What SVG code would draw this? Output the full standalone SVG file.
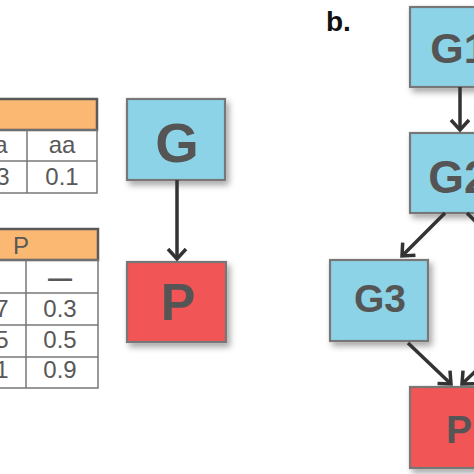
<svg xmlns="http://www.w3.org/2000/svg" width="474" height="474" viewBox="0 0 474 474">
<style>
.blue{fill:#8dd3e7;stroke:#777;stroke-width:2.2}
.red{fill:#f25555;stroke:#777;stroke-width:2.2}
.lbl{font-family:"Liberation Sans",Arial,sans-serif;font-weight:bold;fill:#555;text-anchor:middle}
.cell{font-family:"Liberation Sans",Arial,sans-serif;font-size:24px;fill:#585858;text-anchor:middle}
.hdr{fill:#fbb872;stroke:#5a5a5a;stroke-width:2.5}
.grid{fill:none;stroke:#777;stroke-width:1.5}
.conn{fill:none;stroke:#333;stroke-width:3.5;marker-end:url(#arr)}
</style>
<defs>
<filter id="sh" x="-20%" y="-20%" width="150%" height="150%">
<feDropShadow dx="3" dy="4" stdDeviation="3" flood-color="#000" flood-opacity="0.35"/>
</filter>
<marker id="arr" markerUnits="userSpaceOnUse" markerWidth="24" markerHeight="24" viewBox="-12 -12 24 24" refX="0" refY="0" orient="auto">
<path d="M-10,-9 L0,0 L-10,9" fill="none" stroke="#333" stroke-width="3.5"/>
</marker>
</defs>
<rect width="474" height="474" fill="#fff"/>

<g id="table1">
<rect class="hdr" x="-5" y="99" width="102" height="31"/>
<rect class="grid" x="-5" y="130" width="102" height="63"/>
<line class="grid" x1="-5" y1="161" x2="97" y2="161"/>
<line class="grid" x1="27" y1="130" x2="27" y2="193"/>
<text class="cell" x="1" y="153">a</text>
<text class="cell" x="62" y="153">aa</text>
<text class="cell" x="3" y="185">3</text>
<text class="cell" x="62" y="185">0.1</text>
</g>

<g id="table2">
<rect class="hdr" x="-5" y="229" width="103" height="31"/>
<text class="cell" x="21" y="254">P</text>
<rect class="grid" x="-5" y="260" width="103" height="128"/>
<line class="grid" x1="-5" y1="293" x2="98" y2="293"/>
<line class="grid" x1="-5" y1="325" x2="98" y2="325"/>
<line class="grid" x1="-5" y1="357" x2="98" y2="357"/>
<line class="grid" x1="26" y1="260" x2="26" y2="388"/>
<text class="cell" x="60" y="286" font-weight="bold">—</text>
<text class="cell" x="2" y="317">7</text>
<text class="cell" x="60" y="317">0.3</text>
<text class="cell" x="2" y="348">5</text>
<text class="cell" x="60" y="348">0.5</text>
<text class="cell" x="2" y="378">1</text>
<text class="cell" x="60" y="378">0.9</text>
</g>

<g id="a-G">
<rect class="blue" x="127" y="99" width="98" height="81" filter="url(#sh)"/>
<text class="lbl" x="177" y="162" font-size="56">G</text>
</g>
<g id="a-P">
<rect class="red" x="127" y="262" width="99" height="80" filter="url(#sh)"/>
<text class="lbl" x="178" y="320" font-size="52">P</text>
</g>

<text x="326" y="31" font-family="Liberation Sans,Arial,sans-serif" font-weight="bold" font-size="28" fill="#111">b.</text>

<g id="b-G1">
<rect class="blue" x="410" y="7" width="98" height="80" filter="url(#sh)"/>
<text class="lbl" x="459" y="63" font-size="43">G1</text>
</g>
<g id="b-G2">
<rect class="blue" x="410" y="133" width="98" height="80" filter="url(#sh)"/>
<text class="lbl" x="459" y="193" font-size="46">G2</text>
</g>
<g id="b-G3">
<rect class="blue" x="330" y="260" width="98" height="81" filter="url(#sh)"/>
<text class="lbl" x="380" y="312" font-size="39">G3</text>
</g>
<g id="b-P">
<rect class="red" x="410" y="387" width="98" height="81" filter="url(#sh)"/>
<text class="lbl" x="459" y="443" font-size="39">P</text>
</g>

<g id="connectors">
<line class="conn" x1="177" y1="180" x2="177" y2="259"/>
<line class="conn" x1="460" y1="87" x2="460" y2="130"/>
<line class="conn" x1="445" y1="213" x2="402" y2="256"/>
<line x1="467" y1="213" x2="520" y2="266" stroke="#333" stroke-width="3.5"/>
<line class="conn" x1="408" y1="343" x2="451" y2="384"/>
<line class="conn" x1="505" y1="343" x2="462" y2="384"/>
</g>
</svg>
